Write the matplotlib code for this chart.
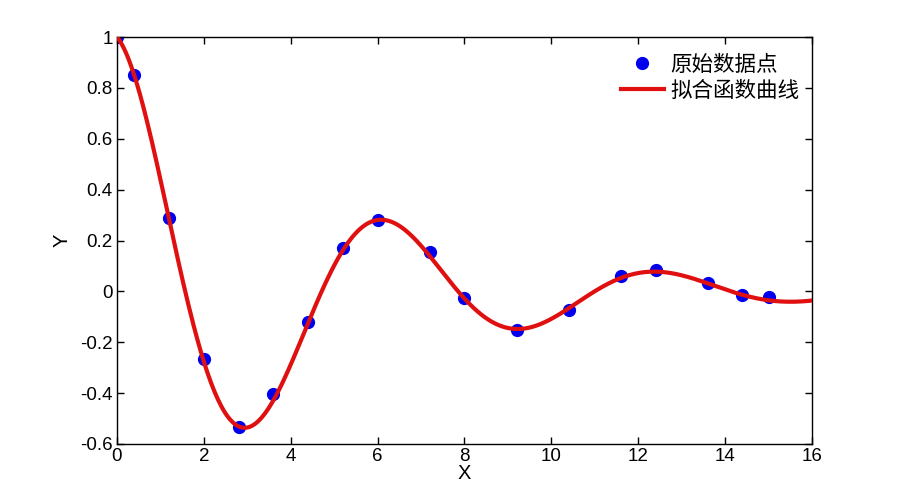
import numpy as np
import matplotlib
matplotlib.use("Agg")
from matplotlib import pyplot as plt

# raw data points
x_data = [0.0, 0.4, 1.2, 2.0, 2.8, 3.6, 4.4, 5.2, 6.0, 7.2, 8.0, 9.2, 10.4, 11.6, 12.4, 13.6, 14.4, 15.0]
y_data = [1.0, 0.85, 0.289, -0.265, -0.533, -0.403, -0.12, 0.172, 0.28, 0.153, -0.026, -0.152, -0.072, 0.062, 0.084, 0.034, -0.013, -0.021]

x_ticks = [0, 2, 4, 6, 8, 10, 12, 14, 16]
y_ticks = [-0.6, -0.4, -0.2, 0, 0.2, 0.4, 0.6, 0.8, 1]
y_ticklabels = ["-0.6", "-0.4", "-0.2", "0", "0.2", "0.4", "0.6", "0.8", "1"]

label_points = "原始数据点"
label_fit = "拟合函数曲线"

# least squares fit of a damped cosine to the points (simple grid search)
xd = np.array(x_data)
yd = np.array(y_data)
best = None
for a in np.linspace(0.1, 0.3, 201):
    for b in np.linspace(0.9, 1.1, 201):
        err = np.sum((np.exp(-a * xd) * np.cos(b * xd) - yd) ** 2)
        if best is None or err < best[0]:
            best = (err, a, b)
_, fa, fb = best
xf = np.linspace(0, 16, 400)
yf = np.exp(-fa * xf) * np.cos(fb * xf)

plt.rcParams['font.family'] = ['Liberation Sans', 'Noto Sans CJK SC', 'DejaVu Sans']

fig = plt.figure(figsize=(8.97, 5.0), dpi=100)
ax = fig.add_axes([0.1304, 0.112, 0.7748, 0.814])

ax.plot(xd, yd, 'o', color='#0000ee', markersize=8.5, label=label_points, zorder=2)
ax.plot(xf, yf, '-', color='#e01010', linewidth=3, label=label_fit, zorder=3)

ax.set_xlim(0, 16)
ax.set_ylim(-0.6, 1)
ax.set_xticks(x_ticks)
ax.set_yticks(y_ticks)
ax.set_yticklabels(y_ticklabels)
ax.tick_params(direction='in', top=True, right=True, labelsize=13.5, length=5, width=1, pad=3)
for s in ax.spines.values():
    s.set_linewidth(1)

ax.set_xlabel("X", fontsize=14.5, labelpad=-1)
ax.set_ylabel("Y", fontsize=14.5, labelpad=6)

leg = ax.legend(loc='upper right', bbox_to_anchor=(1.0, 0.99), frameon=False,
                prop={'family': ['Noto Sans CJK SC'], 'size': 15.5},
                handlelength=2.0, handletextpad=0.3, labelspacing=0.17, borderaxespad=0.2)

fig.savefig("out.png", dpi=100, facecolor='white')
